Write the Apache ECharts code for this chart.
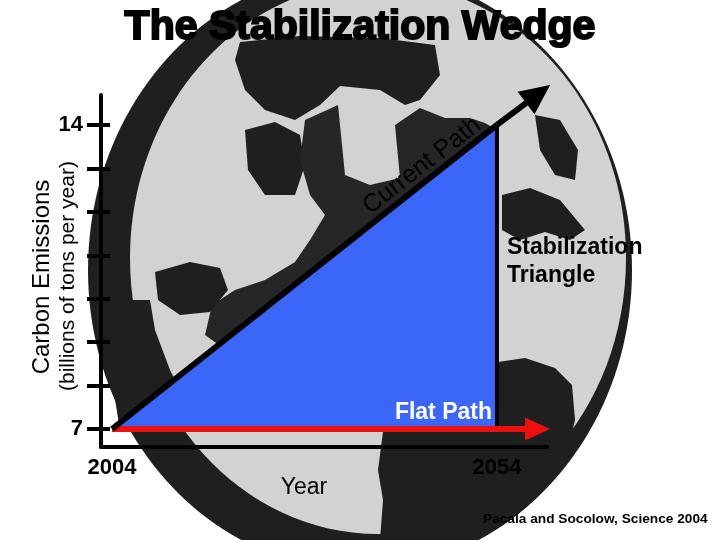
<!DOCTYPE html>
<html>
<head>
<meta charset="utf-8">
<script src="https://cdn.jsdelivr.net/npm/echarts@6/dist/echarts.min.js"></script>
<style>html,body{margin:0;padding:0;background:#fff}#c{width:720px;height:540px}</style>
</head>
<body>
<div id="c"></div>
<script>
// ---- data ----
const years = [2004, 2054];
const currentPath = [7, 14];          // emissions along current path
const flatPath = [7, 7];              // emissions along flat path
const triangleYears = [2004, 2054, 2054];
const triangleValues = [7, 14, 7];
const arrowTipYear = [2060.9, 2060.9];   // [current, flat]
const arrowTipValue = [14.92, 7];
const yTickValues = [7, 8, 9, 10, 11, 12, 13, 14];
const yLabelValues = [7, 14];
const xLabelValues = [2004, 2054];

const FONT = '"Liberation Sans", Arial, Helvetica, sans-serif';
const DARK = '#1f1f1f';
const LIGHT = '#d2d2d2';
const RED = '#ee1010';

const chart = echarts.init(document.getElementById('c'));

function poly(points, fill) {
  return { type: 'polygon', z: -9, silent: true, shape: { points: points }, style: { fill: fill } };
}

const globe = [
  { type: 'ellipse', z: -10, silent: true, shape: { cx: 360, cy: 270, rx: 272, ry: 300 }, style: { fill: DARK } },
  { type: 'ellipse', z: -10, silent: true, shape: { cx: 378, cy: 258, rx: 248, ry: 276 }, style: { fill: LIGHT } },
  poly([[240,42],[300,36],[380,38],[435,45],[440,75],[420,100],[405,105],[380,90],[340,86],[320,105],[295,120],[265,110],[245,90],[235,60]], DARK),
  poly([[245,130],[275,122],[300,135],[305,165],[295,195],[265,195],[248,170]], DARK),
  poly([[305,120],[338,105],[345,175],[370,185],[400,178],[395,125],[420,108],[445,118],[470,118],[485,123],[497,130],[219,345],[205,335],[212,305],[235,290],[265,280],[295,262],[310,240],[325,215],[310,195],[300,160]], '#262626'),
  poly([[155,272],[190,262],[220,268],[228,290],[210,312],[180,315],[158,300]], DARK),
  poly([[118,300],[150,300],[155,330],[170,370],[185,400],[190,420],[150,431],[120,431],[112,380]], DARK),
  poly([[498,362],[525,358],[555,368],[572,385],[575,420],[568,450],[550,480],[530,500],[500,520],[470,540],[380,540],[383,500],[378,470],[383,432],[498,432]], DARK),
  poly([[535,115],[560,120],[578,150],[575,180],[555,175],[540,150]], DARK),
  poly([[502,195],[530,188],[560,200],[585,230],[570,240],[545,232],[520,240],[502,230]], DARK)
];

function txt(x, y, text, size, opts) {
  opts = opts || {};
  return {
    type: 'text', z: 100, silent: true,
    x: x, y: y, rotation: opts.rotation || 0,
    style: {
      text: text, fill: opts.color || '#000',
      font: (opts.weight || 'normal') + ' ' + size + 'px ' + FONT,
      textAlign: opts.align || 'center', textVerticalAlign: 'middle',
      lineHeight: opts.lineHeight || size * 1.2,
      stroke: opts.stroke || null, lineWidth: opts.strokeWidth || 0
    }
  };
}

const texts = [
  txt(360, 28, 'The Stabilization Wedge', 41, { weight: 'bold', stroke: '#000', strokeWidth: 2 }),
  txt(42, 277, 'Carbon Emissions', 24, { rotation: Math.PI / 2 }),
  txt(68, 276, '(billions of tons per year)', 21, { rotation: Math.PI / 2 }),
  txt(304, 488, 'Year', 23),
  txt(422, 166, 'Current Path', 25, { rotation: 37.7 * Math.PI / 180 }),
  txt(507, 262, 'Stabilization\nTriangle', 23, { weight: 'bold', align: 'left', lineHeight: 28 }),
  txt(492, 413, 'Flat Path', 23, { weight: 'bold', align: 'right', color: '#fff' }),
  txt(483, 519, 'Pacala and Socolow, Science 2004', 13.7, { weight: 'bold', align: 'left' })
];

const xMin = 2002.57, xMax = 2060.5, yMin = 6.586, yMax = 14.69;

const arrowStyles = [
  { color: '#000', width: 6, headLen: 30, headWidth: 28 },
  { color: RED, width: 6, headLen: 25, headWidth: 23 }
];

const option = {
  backgroundColor: '#fff',
  animation: false,
  grid: { left: 101, right: 173, top: 95, bottom: 93, outerBoundsMode: 'none', containLabel: false },
  xAxis: {
    type: 'value', min: xMin, max: xMax,
    axisLine: { show: true, lineStyle: { color: '#000', width: 4 } },
    axisTick: { show: false },
    splitLine: { show: false },
    axisLabel: { customValues: xLabelValues, formatter: v => String(v), margin: 10, color: '#000', fontSize: 22, fontWeight: 'bold', fontFamily: FONT }
  },
  yAxis: [
    {
      type: 'value', min: yMin, max: yMax,
      axisLine: { show: true, lineStyle: { color: '#000', width: 4 } },
      axisTick: { show: true, customValues: yTickValues, length: 14, lineStyle: { color: '#000', width: 4 } },
      splitLine: { show: false },
      axisLabel: { customValues: yLabelValues, formatter: v => String(v), margin: 18, color: '#000', fontSize: 22, fontWeight: 'bold', fontFamily: FONT }
    },
    {
      type: 'value', min: yMin, max: yMax, position: 'left',
      axisLine: { show: false },
      axisTick: { show: true, inside: true, customValues: yTickValues, length: 9, lineStyle: { color: '#000', width: 4 } },
      splitLine: { show: false },
      axisLabel: { show: false }
    }
  ],
  graphic: { elements: globe.concat(texts) },
  series: [
    {
      name: 'Stabilization Triangle', type: 'custom', z: 2, clip: false,
      data: triangleYears.map((y, i) => [y, triangleValues[i]]),
      renderItem: function (params, api) {
        if (params.dataIndex !== 0) return null;
        const pts = triangleYears.map((y, i) => api.coord([y, triangleValues[i]]));
        return { type: 'polygon', shape: { points: pts }, style: { fill: '#3a66fa' } };
      }
    },
    {
      name: 'Stabilization edge', type: 'line', z: 3, symbol: 'none', clip: false,
      data: [[years[1], flatPath[1]], [years[1], currentPath[1]]],
      lineStyle: { color: '#000', width: 4 }
    },
    {
      name: 'Flat Path', type: 'line', z: 4, symbol: 'none', clip: false,
      data: years.map((y, i) => [y, flatPath[i]]),
      lineStyle: { color: RED, width: 6 }
    },
    {
      name: 'Current Path', type: 'line', z: 5, symbol: 'none', clip: false,
      data: years.map((y, i) => [y, currentPath[i]]),
      lineStyle: { color: '#000', width: 6 }
    },
    {
      name: 'Arrows', type: 'custom', z: 6, clip: false,
      data: [
        [years[1], currentPath[1], arrowTipYear[0], arrowTipValue[0]],
        [years[1], flatPath[1], arrowTipYear[1], arrowTipValue[1]]
      ],
      renderItem: function (params, api) {
        const s = arrowStyles[params.dataIndex];
        const a = api.coord([api.value(0), api.value(1)]);
        const t = api.coord([api.value(2), api.value(3)]);
        const dx = t[0] - a[0], dy = t[1] - a[1];
        const L = Math.sqrt(dx * dx + dy * dy);
        const ux = dx / L, uy = dy / L, nx = -uy, ny = ux;
        const bx = t[0] - ux * s.headLen, by = t[1] - uy * s.headLen;
        return {
          type: 'group',
          children: [
            { type: 'line', shape: { x1: a[0], y1: a[1], x2: bx + ux * 4, y2: by + uy * 4 }, style: { stroke: s.color, lineWidth: s.width } },
            { type: 'polygon', shape: { points: [t, [bx + nx * s.headWidth / 2, by + ny * s.headWidth / 2], [bx - nx * s.headWidth / 2, by - ny * s.headWidth / 2]] }, style: { fill: s.color } }
          ]
        };
      }
    }
  ]
};
chart.setOption(option);
</script>
</body>
</html>
